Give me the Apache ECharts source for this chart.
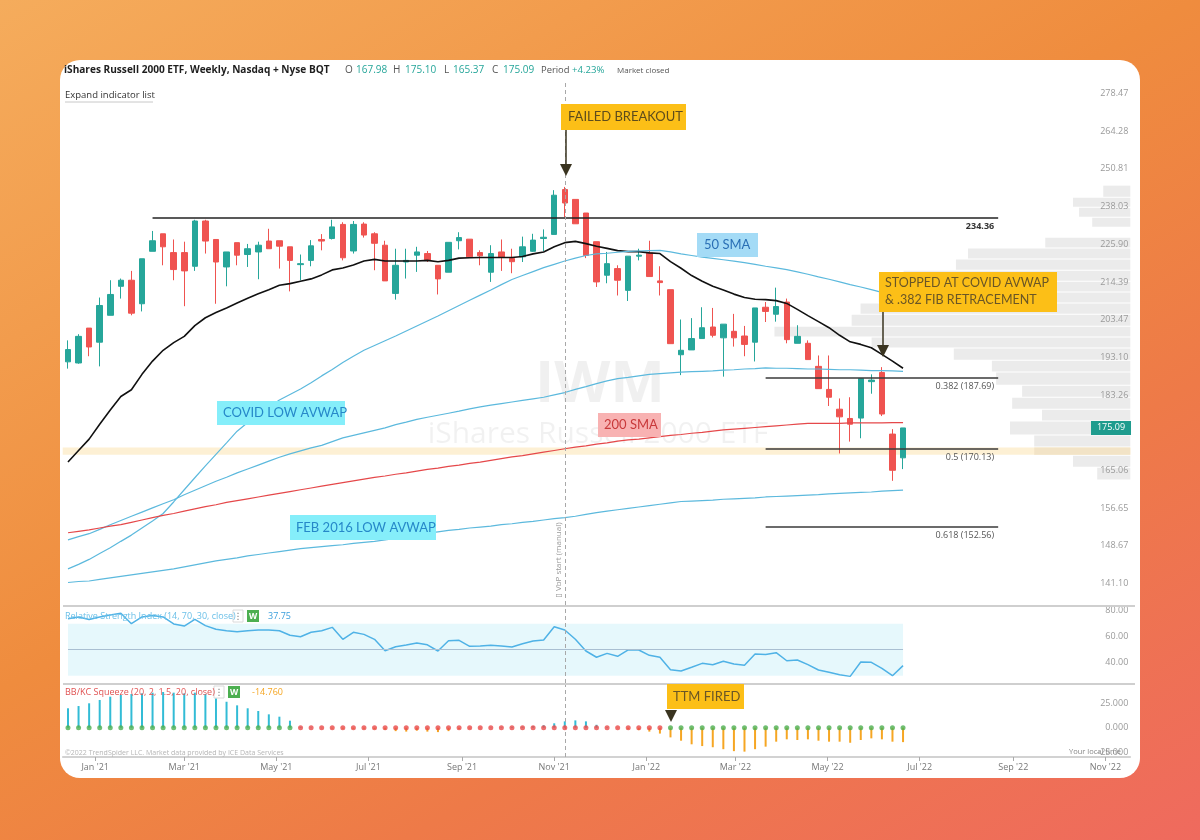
<!DOCTYPE html>
<html>
<head>
<meta charset="utf-8">
<script src="https://cdn.jsdelivr.net/npm/echarts/dist/echarts.min.js"></script>
<style>
  html, body { margin: 0; padding: 0; }
  body { width: 1200px; height: 840px; position: relative; overflow: hidden;
         background: linear-gradient(150deg, #f5ac5c 0%, #ef8c3e 45%, #ee7a48 70%, #ef6a5e 100%); }
  #card { position: absolute; left: 60px; top: 60px; width: 1080px; height: 718px; background: #fff; border-radius: 20px; }
  #chart { position: absolute; left: 0; top: 0; width: 1200px; height: 840px; }
</style>
</head>
<body>
<div id="card"></div>
<div id="chart"></div>
<script>
// weekly candles, IWM, week of 2020-12-14 .. 2022-06-20
const open = [191.9,191.6,201.1,197.2,204.7,213.1,214.9,208.0,223.7,229.2, 223.3,223.3,219.1,233.3,227.4,218.9,226.4,222.7,223.5,226.9,
  227.0,225.1,219.6,220.9,227.4,227.7,232.2,223.8,232.3,229.2, 225.6,211.0,220.4,222.5,223.0,219.4,217.3,227.0,227.5,223.3,
  217.3,223.5,221.5,222.0,223.7,227.7,229.0,243.7,240.4,235.9, 226.7,216.4,218.4,211.9,222.2,223.2,214.7,212.1,193.8,195.1,
  198.2,201.4,198.4,200.2,198.9,197.2,207.0,205.0,208.5,196.9, 196.9,190.7,184.7,179.7,177.4,177.5,186.7,189.1,173.6,167.98];
const high = [197.7,199.4,201.1,209.8,214.9,215.4,217.7,221.4,230.1,229.2, 227.4,226.7,233.7,233.7,227.4,223.5,226.4,226.0,226.7,230.8,
  227.0,225.1,222.7,227.2,229.1,233.7,232.9,233.3,232.9,229.7, 227.0,224.5,224.5,225.1,223.8,219.4,226.5,229.7,227.5,224.0,
  225.6,227.4,224.5,228.3,229.2,230.6,243.5,244.6,240.4,235.9, 226.7,223.5,219.4,222.2,224.5,227.0,219.1,212.1,203.5,203.9,
  207.0,206.8,202.2,205.1,201.7,206.8,208.5,212.7,209.5,201.9, 197.7,193.6,193.6,182.4,182.7,187.5,188.6,190.5,174.8,175.10];
const low = [190.1,191.4,193.4,190.7,204.7,209.5,204.7,205.8,223.7,219.4, 214.9,207.3,217.7,223.0,208.0,213.1,219.4,218.9,215.2,224.5,
  218.4,211.6,214.9,219.1,224.0,227.4,220.9,223.0,228.0,217.9, 214.7,209.2,215.4,217.4,220.4,210.7,217.3,224.3,221.8,219.4,
  214.4,217.7,217.0,220.4,223.5,223.8,229.0,234.6,232.4,221.6, 212.9,214.0,210.4,208.8,220.9,216.0,210.4,196.8,188.4,195.1,
  198.2,198.5,188.0,196.0,193.4,192.0,202.8,202.9,196.9,196.9, 192.5,184.9,180.5,169.0,171.8,172.6,183.6,178.0,162.7,165.37];
const close = [195.2,198.8,195.9,207.5,210.7,214.9,205.3,221.4,227.0,225.1, 218.1,217.7,233.3,226.9,220.4,223.5,222.5,224.5,225.6,224.5,
  225.3,220.9,219.9,225.4,226.9,231.4,221.7,232.2,228.8,226.2, 214.7,219.4,220.9,223.5,220.9,215.3,226.5,228.0,222.0,222.3,
  223.0,221.8,220.5,225.1,227.2,228.1,241.8,239.2,232.4,222.4, 214.4,219.9,214.9,222.2,222.5,216.0,214.2,196.8,195.0,198.2,
  201.2,199.1,202.2,198.4,196.6,206.8,205.8,207.2,197.9,198.8, 192.5,184.9,182.7,177.8,176.0,187.5,187.1,178.5,165.1,175.09];

// overlays
const blackMa = [167.0,169.7,172.4,176.0,179.5,182.9,184.6,188.6,192.1,195.0, 197.1,198.8,201.8,204.0,205.5,206.8,208.2,209.6,210.9,212.1,
  213.4,213.9,214.6,215.3,216.5,218.0,218.6,219.5,220.7,221.2, 220.7,220.7,220.7,220.7,220.9,220.5,220.9,221.6,221.7,221.8,
  221.8,221.8,221.8,222.1,222.9,223.5,225.1,226.4,226.8,226.1, 225.3,224.6,223.9,223.6,223.6,223.2,223.0,220.5,218.5,216.3,
  214.6,213.1,212.0,210.8,209.8,209.3,209.2,208.9,208.1,206.4, 204.6,202.9,201.2,199.1,197.3,196.6,195.7,193.9,192.1,190.2];
const sma50 = [144.0,144.9,145.9,147.1,148.3,149.6,150.9,152.4,153.9,155.5, 158.0,160.7,163.4,166.1,168.8,171.5,174.3,176.4,178.2,180.1,
  182.0,183.4,184.8,186.4,188.2,189.9,191.7,193.4,195.0,196.3, 197.6,198.9,200.3,201.7,203.1,204.5,206.0,207.5,209.0,210.5,
  212.0,213.6,215.1,216.3,217.5,218.7,219.7,220.7,221.6,222.4, 222.9,223.1,223.4,223.7,223.8,223.9,224.0,223.5,222.9,222.4,
  221.9,221.5,221.1,220.7,220.2,219.7,219.1,218.6,218.1,217.4, 216.7,215.9,215.2,214.4,213.6,212.9,212.1,211.3,210.6,209.9];
const covidAvwap = [149.9,150.6,151.2,152.1,153.1,154.0,154.9,155.8,156.7,157.6, 158.5,159.6,160.6,161.6,162.6,163.5,164.5,165.4,166.3,167.2,
  168.1,168.9,169.6,170.3,170.9,171.8,172.7,173.3,173.9,174.5, 175.1,175.9,176.5,177.2,177.7,178.2,178.7,179.2,179.8,180.3,
  180.7,181.1,181.5,181.9,182.3,182.7,183.3,183.9,184.7,185.4, 186.2,186.9,187.5,187.8,188.2,188.6,188.8,189.0,189.2,189.3,
  189.4,189.5,189.7,189.8,190.0,190.1,190.3,190.2,190.2,190.1, 190.0,190.0,189.9,189.8,189.8,189.7,189.6,189.6,189.5,189.4];
const sma200 = [151.4,151.7,152.0,152.4,152.8,153.1,153.6,154.1,154.6,155.1, 155.5,156.0,156.5,157.0,157.4,157.9,158.3,158.7,159.1,159.5,
  159.9,160.3,160.7,161.1,161.5,161.9,162.3,162.7,163.1,163.5, 163.8,164.2,164.5,164.9,165.3,165.6,166.0,166.3,166.7,167.0,
  167.4,167.8,168.2,168.5,168.9,169.3,169.7,170.1,170.5,170.8, 171.2,171.5,171.9,172.2,172.4,172.7,173.0,173.3,173.5,173.8,
  174.0,174.3,174.6,174.8,175.0,175.2,175.4,175.6,175.8,176.0, 176.2,176.2,176.2,176.2,176.3,176.3,176.3,176.3,176.4,176.4];
const feb2016Avwap = [141.3,141.5,141.6,141.9,142.2,142.5,142.8,143.1,143.4,143.7, 144.0,144.4,144.8,145.2,145.6,145.9,146.2,146.6,146.9,147.2,
  147.5,147.8,148.1,148.3,148.5,148.7,148.9,149.2,149.4,149.6, 149.9,150.2,150.6,150.9,151.3,151.6,151.9,152.1,152.4,152.6,
  152.8,153.1,153.3,153.6,153.8,154.1,154.4,154.6,154.9,155.3, 155.7,156.0,156.3,156.6,156.9,157.2,157.5,157.8,158.1,158.2,
  158.3,158.4,158.6,158.7,158.8,158.9,159.1,159.2,159.3,159.4, 159.5,159.6,159.8,159.9,160.0,160.1,160.2,160.4,160.5,160.6];

// volume profile (from VbP start), relative volume per price row
const vpHigh = [245.2,241.1,237.8,234.5,228.1,224.7,221.3,217.9,214.6,211.4,208.2,205.0,201.6,198.6,195.6,192.3,189.2,185.8,182.7,179.7,176.8,173.4,170.5,168.6,165.8];
const vpLow  = [241.1,237.8,234.5,231.3,224.7,221.3,217.9,214.6,211.4,208.2,205.0,201.6,198.6,195.6,192.3,189.2,185.8,182.7,179.7,176.8,173.4,170.5,168.6,165.8,162.9];
const vpVol  = [7.6,16.1,14.4,10.7,23.9,45.6,49.0,63.7,66.5,70.7,75.8,78.3,100,72.7,49.6,38.9,37.7,30.4,33.2,24.8,33.8,27.0,27.0,16.1,9.3];
const vpPocRow = 22;

// RSI (14)
const rsi = [73.8,75.2,73.2,75.2,76.7,78.0,70.0,75.2,76.4,75.2, 69.8,68.2,73.4,68.5,65.7,64.6,63.8,64.6,65.2,65.2,
  64.6,61.1,60.0,63.4,64.6,67.2,58.0,63.4,61.8,58.0, 49.2,52.3,53.6,55.2,53.8,49.0,56.9,57.2,52.6,52.8,
  53.4,52.8,52.1,54.6,56.7,57.5,67.7,65.2,58.0,49.0, 44.2,47.2,44.9,49.8,49.8,45.7,44.2,34.6,33.6,36.5,
  39.5,38.5,41.1,39.0,38.0,46.7,46.4,47.7,41.5,42.1, 38.5,34.4,32.6,30.8,29.5,40.5,40.3,35.7,30.0,37.75];

// BB/KC squeeze momentum and squeeze state (1 = on / red dot)
const sqzMom = [19.9,22.2,25.0,28.4,31.8,33.5,34.5,35.2,35.9,36.6, 35.9,35.2,35.9,34.5,30.1,26.6,22.9,19.9,17.1,13.7,
  11.3,7.2,0.8,0.3,-0.5,-0.8,-1.0,-1.2,-1.0,-1.5, -2.0,-3.5,-4.0,-3.0,-4.0,-4.5,-3.5,-1.5,-0.8,-0.5,
  0.3,0.5,0.8,1.0,1.5,2.5,4.5,6.5,7.5,6.5, 3.0,0.5,-0.5,-1.5,-2.5,-4.0,-6.0,-9.9,-13.3,-17.0,
  -18.8,-20.0,-22.0,-24.0,-24.5,-22.0,-19.4,-14.3,-11.9,-12.6, -11.9,-13.3,-14.3,-14.3,-15.4,-12.6,-10.9,-11.9,-14.3,-14.76];
const sqzOn = [0,0,0,0,0,0,0,0,0,0, 0,0,0,0,0,0,0,0,0,0, 0,0,1,1,1,1,1,1,1,1,
  1,1,1,1,1,1,1,1,1,1, 1,1,1,1,1,1,1,1,1,1, 1,1,1,1,1,1,1,0,0,0,
  0,0,0,0,0,0,0,0,0,0, 0,0,0,0,0,0,0,0,0,0];

const priceTicks = [141.10,148.67,156.65,165.06,183.26,193.10,203.47,214.39,225.90,238.03,250.81,264.28,278.47];
const rsiTicks = [40, 60, 80];
const sqzTicks = [-25, 0, 25];
const monthTicks = ['2021-01-01','2021-03-01','2021-05-01','2021-07-01','2021-09-01','2021-11-01',
  '2022-01-01','2022-03-01','2022-05-01','2022-07-01','2022-09-01','2022-11-01'];
const monthNames = ['Jan','Feb','Mar','Apr','May','Jun','Jul','Aug','Sep','Oct','Nov','Dec'];

const fibLevels = [
  { value: 187.69, label: '0.382 (187.69)' },
  { value: 170.13, label: '0.5 (170.13)' },
  { value: 152.56, label: '0.618 (152.56)' }
];
const resistance = 234.36;
const lastClose = 175.09;
const vbpStartIdx = 47;

// weekly categories, including empty weeks to the right edge
const WEEK = 7 * 86400000;
const firstWeek = Date.UTC(2020, 11, 14);
const weeks = [];
for (let i = 0; i < 101; i++) weeks.push(new Date(firstWeek + i * WEEK).toISOString().slice(0, 10));
const tMin = firstWeek - WEEK / 2, tMax = tMin + 101 * WEEK;
const monthTickMs = monthTicks.map(d => Date.parse(d));

const candles = open.map((o, i) => [o, close[i], low[i], high[i]]);

const FONT = '"Open Sans", "DejaVu Sans", sans-serif';
const GL = 62.7, GW = 1067.6;
const UP = '#26a69a', DOWN = '#ef5350', BLUE = '#5cb9dd';

function lineSeries(name, data, color, width) {
  return { name, type: 'line', xAxisIndex: 0, yAxisIndex: 0, data, showSymbol: false, silent: true, z: 4,
    lineStyle: { color, width }, itemStyle: { color } };
}

const fibMarks = [];
fibLevels.forEach(f => {
  fibMarks.push([
    { coord: [66, f.value], lineStyle: { color: '#3a3a3a', width: 1.5, type: 'solid' },
      label: { show: true, position: 'insideEndBottom', formatter: f.label, color: '#555', fontSize: 9, fontFamily: FONT, distance: 4 } },
    { coord: [88, f.value] }
  ]);
});
fibMarks.push([
  { coord: [8, resistance], lineStyle: { color: '#222', width: 1.5, type: 'solid' },
    label: { show: true, position: 'insideEndBottom', formatter: resistance.toFixed(2), color: '#333', fontSize: 9, fontWeight: 'bold', fontFamily: FONT, distance: 4 } },
  { coord: [88, resistance] }
]);
const dashed = { xAxis: vbpStartIdx, lineStyle: { color: '#a8a8a8', type: [4, 3], width: 1 }, label: { show: false } };
fibMarks.push(dashed);

const G = [];
function txt(x, y, text, style, z) {
  G.push({ type: 'text', x, y, silent: true, z: z == null ? 60 : z,
    style: Object.assign({ text, fill: '#333', font: '10px ' + FONT, textVerticalAlign: 'middle' }, style) });
}
function rect(x, y, w, h, fill, z, stroke) {
  G.push({ type: 'rect', silent: true, z: z == null ? 50 : z, shape: { x, y, width: w, height: h },
    style: { fill, stroke: stroke || null, lineWidth: stroke ? 1 : 0 } });
}
function hline(x1, x2, y, color, w) {
  G.push({ type: 'line', silent: true, z: 10, shape: { x1, y1: y, x2, y2: y }, style: { stroke: color, lineWidth: w } });
}
function arrowDown(x, y1, y2, tip) {
  if (y2 > y1) G.push({ type: 'line', silent: true, z: 55, shape: { x1: x, y1, x2: x, y2 }, style: { stroke: '#3a3420', lineWidth: 1.5 } });
  G.push({ type: 'polygon', silent: true, z: 55, shape: { points: [[x - 6, y2], [x + 6, y2], [x, tip]] }, style: { fill: '#3a3420' } });
}

// watermark
txt(600, 385, 'IWM', { fill: 'rgba(0,0,0,0.06)', font: 'bold 58px ' + FONT, textAlign: 'center' }, 0);
txt(598, 434, 'iShares Russell 2000 ETF', { fill: 'rgba(0,0,0,0.055)', font: '30px ' + FONT, textAlign: 'center' }, 0);

// header
txt(64, 70, 'iShares Russell 2000 ETF, Weekly, Nasdaq + Nyse BQT', { fill: '#1e1e1e', font: 'bold 10.1px ' + FONT });
[['O', 345, '167.98', 356], ['H', 393, '175.10', 405], ['L', 444, '165.37', 453], ['C', 492, '175.09', 503]].forEach(p => {
  txt(p[1], 70, p[0], { fill: '#555' });
  txt(p[3], 70, p[2], { fill: UP });
});
txt(541, 70, 'Period', { fill: '#555', font: '9.4px ' + FONT });
txt(572, 70, '+4.23%', { fill: UP, font: '9.6px ' + FONT });
txt(617, 71, 'Market closed', { fill: '#555', font: '8px ' + FONT });
txt(65, 95, 'Expand indicator list', { fill: '#333', font: '9.5px ' + FONT });
hline(65, 153, 102, '#c8c8c8', 1);

// panel separators
hline(63, 1135, 606, '#cfcfcf', 2);
hline(63, 1135, 684, '#cfcfcf', 2);

// indicator titles
txt(65, 616, 'Relative Strength Index (14, 70, 30, close)', { fill: '#6cc0e8', font: '9px ' + FONT });
rect(233, 610, 10, 12, '#fff', 58, '#dadada');
txt(238, 616, '⋮', { fill: '#777', font: '9px ' + FONT, textAlign: 'center' });
rect(247, 610, 12, 12, '#4caf50', 58);
txt(253, 616.5, 'W', { fill: '#fff', font: 'bold 8.5px ' + FONT, textAlign: 'center' });
txt(268, 616, '37.75', { fill: '#3b9fdc', font: '9px ' + FONT });

txt(65, 692, 'BB/KC Squeeze (20, 2, 1.5, 20, close)', { fill: '#e05252', font: '9px ' + FONT });
rect(214, 686, 10, 12, '#fff', 58, '#dadada');
txt(219, 692, '⋮', { fill: '#777', font: '9px ' + FONT, textAlign: 'center' });
rect(228, 686, 12, 12, '#4caf50', 58);
txt(234, 692.5, 'W', { fill: '#fff', font: 'bold 8.5px ' + FONT, textAlign: 'center' });
txt(252, 692, '-14.760', { fill: '#f5a623', font: '9px ' + FONT });

txt(65, 753, '©2022 TrendSpider LLC. Market data provided by ICE Data Services', { fill: '#b5b5b5', font: '7px ' + FONT });
txt(1069, 752, 'Your local time', { fill: '#888', font: '7.5px ' + FONT });
txt(559, 560, '▯ VbP start (manual)', { fill: '#9a9a9a', font: '8px ' + FONT, textAlign: 'center' }, 5);
G[G.length - 1].rotation = Math.PI / 2;

// annotation boxes
const AMBER = '#fcbf17';
const LF = 'Lato, "Open Sans", sans-serif';
rect(561, 104, 125, 26, AMBER);
txt(568, 117, 'FAILED BREAKOUT', { fill: '#5e4c1c', font: '13px ' + LF });
arrowDown(566, 130, 164, 176);

rect(697, 233, 61, 24, '#a4dbf6');
txt(704, 245, '50 SMA', { fill: '#2a6fb5', font: '13px ' + LF });

rect(879, 272, 178, 40, AMBER);
txt(885, 283, 'STOPPED AT COVID AVWAP', { fill: '#6a5626', font: '12.5px ' + LF });
txt(885, 300, '& .382 FIB RETRACEMENT', { fill: '#6a5626', font: '12.5px ' + LF });
arrowDown(883, 312, 345, 357);

rect(217, 401, 128, 24, '#85eefa');
txt(223, 413, 'COVID LOW AVWAP', { fill: '#2688c9', font: '13px ' + LF });

rect(598, 413, 63, 24, '#f8b2b2');
txt(604, 425, '200 SMA', { fill: '#c8393a', font: '13px ' + LF });

rect(290, 515, 146, 25, '#85eefa');
txt(296, 528, 'FEB 2016 LOW AVWAP', { fill: '#2688c9', font: '13px ' + LF });

rect(667, 684, 77, 25, AMBER);
txt(673, 697, 'TTM FIRED', { fill: '#6a5626', font: '13px ' + LF });
arrowDown(671, 710, 710, 722);

const chart = echarts.init(document.getElementById('chart'));
const hiddenCat = gi => ({ type: 'category', gridIndex: gi, data: weeks, show: false, boundaryGap: true });
const rightAxis = (gi, min, max, ticks, dec) => ({
  type: 'value', gridIndex: gi, position: 'right', min, max, z: 8,
  axisLine: { show: false }, axisTick: { show: false }, splitLine: { show: false },
  axisLabel: { inside: true, margin: 2, customValues: ticks, formatter: v => v.toFixed(dec), color: '#9a9a9a', fontSize: 9, fontFamily: FONT }
});

chart.setOption({
  animation: false,
  backgroundColor: 'transparent',
  textStyle: { fontFamily: FONT },
  grid: [
    { left: GL, top: 80, width: GW, height: 525, outerBoundsMode: 'none' },
    { left: GL, top: 607, width: GW, height: 76, outerBoundsMode: 'none' },
    { left: GL, top: 685, width: GW, height: 72, outerBoundsMode: 'none' }
  ],
  xAxis: [
    hiddenCat(0), hiddenCat(1), hiddenCat(2),
    { type: 'value', gridIndex: 0, inverse: true, min: 0, max: 300, show: false },
    { type: 'value', gridIndex: 2, position: 'bottom', min: tMin, max: tMax,
      axisLine: { show: true, lineStyle: { color: '#c4c4c4', width: 1.5 } },
      axisTick: { show: true, length: 4, customValues: monthTickMs, lineStyle: { color: '#aaa' } },
      splitLine: { show: false },
      axisLabel: { customValues: monthTickMs, color: '#777', fontSize: 9, margin: 6, fontFamily: FONT,
        formatter: v => { const d = new Date(v); return monthNames[d.getUTCMonth()] + " '" + String(d.getUTCFullYear()).slice(2); } } }
  ],
  yAxis: [
    { type: 'log', gridIndex: 0, position: 'right', min: 136.96, max: 283.7, z: 8,
      axisLine: { show: false }, axisTick: { show: false }, splitLine: { show: false },
      axisLabel: { inside: true, margin: 2, customValues: priceTicks, formatter: v => v.toFixed(2), color: '#9a9a9a', fontSize: 9, fontFamily: FONT } },
    rightAxis(1, 24.4, 82.85, rsiTicks, 2),
    rightAxis(2, -30, 43.75, sqzTicks, 3)
  ],
  graphic: { elements: G },
  series: [
    {
      name: 'VbP', type: 'custom', xAxisIndex: 3, yAxisIndex: 0, z: 1, silent: true,
      data: vpVol.map((v, i) => [v, vpLow[i], vpHigh[i], i === vpPocRow ? 1 : 0]),
      encode: { x: 0, y: [1, 2] },
      renderItem: (params, api) => {
        const v = api.value(0), lo = api.value(1), hi = api.value(2), poc = api.value(3);
        const a = api.coord([v, hi]), b = api.coord([0, lo]);
        const y = a[1] + 0.5, h = Math.max(1, b[1] - a[1] - 1);
        const kids = [];
        if (poc) {
          const cs = params.coordSys;
          kids.push({ type: 'rect', shape: { x: cs.x, y, width: cs.width, height: h }, style: { fill: '#fdf0d4' } });
        }
        kids.push({ type: 'rect', shape: { x: a[0], y, width: b[0] - a[0], height: h }, style: { fill: poc ? '#f2e3c6' : '#ebebeb' } });
        return { type: 'group', children: kids };
      }
    },
    {
      name: 'IWM', type: 'candlestick', xAxisIndex: 0, yAxisIndex: 0, data: candles, barWidth: 6, z: 3, silent: true,
      itemStyle: { color: UP, color0: DOWN, borderColor: UP, borderColor0: DOWN, borderWidth: 1 },
      markLine: { silent: true, symbol: ['none', 'none'], animation: false, data: fibMarks },
      markPoint: { silent: true, animation: false, data: [{
        coord: [100, lastClose], symbol: 'rect', symbolSize: [40, 14], symbolOffset: [-14, 0],
        itemStyle: { color: '#1f9c8e' },
        label: { show: true, position: 'inside', formatter: lastClose.toFixed(2), color: '#fff', fontSize: 9, fontFamily: FONT } }] }
    },
    lineSeries('Black MA', blackMa, '#111', 1.6),
    lineSeries('50 SMA', sma50, BLUE, 1.2),
    lineSeries('COVID low AVWAP', covidAvwap, BLUE, 1.2),
    lineSeries('200 SMA', sma200, '#e5484a', 1.2),
    lineSeries('Feb 2016 low AVWAP', feb2016Avwap, BLUE, 1.2),
    {
      name: 'RSI', type: 'line', xAxisIndex: 1, yAxisIndex: 1, data: rsi, showSymbol: false, silent: true, z: 4,
      lineStyle: { color: '#4fb2e6', width: 1.5 },
      markArea: { silent: true, itemStyle: { color: 'rgba(190,236,246,0.38)' },
        data: [[{ coord: [0, 70] }, { coord: [79, 30] }]] },
      markLine: { silent: true, symbol: ['none', 'none'], data: [
        [{ coord: [0, 50], lineStyle: { color: '#a9bfd2', width: 1, type: 'solid' }, label: { show: false } }, { coord: [79, 50] }],
        dashed ] }
    },
    {
      name: 'Squeeze', type: 'bar', xAxisIndex: 2, yAxisIndex: 2, barWidth: 2, silent: true, z: 3,
      data: sqzMom.map(v => ({ value: v, itemStyle: { color: v >= 0 ? '#33bcd6' : '#f6a623' } })),
      markLine: { silent: true, symbol: ['none', 'none'], data: [dashed] }
    },
    {
      name: 'Squeeze dots', type: 'scatter', xAxisIndex: 2, yAxisIndex: 2, symbolSize: 5, silent: true, z: 5,
      data: sqzOn.map(s => ({ value: 0, itemStyle: { color: s ? '#ea4a4a' : '#4caf50' } }))
    }
  ]
});
</script>
</body>
</html>
